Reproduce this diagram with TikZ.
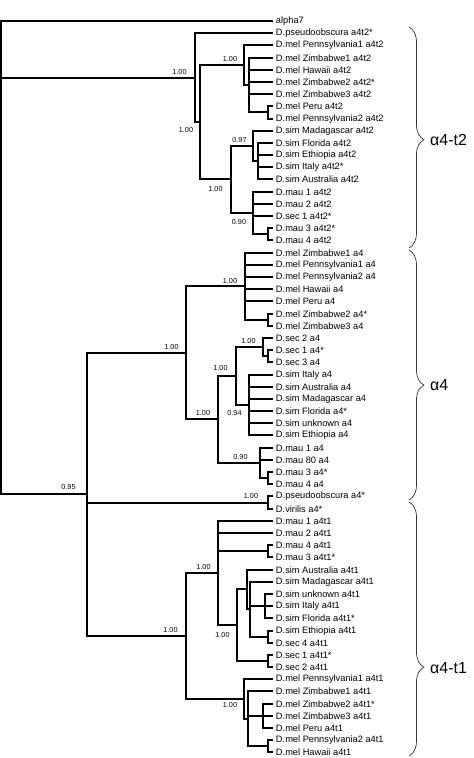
\documentclass[tikz,border=0pt]{standalone}
\usepackage{fontspec}
\setmainfont{Liberation Sans}
\usetikzlibrary{decorations.pathreplacing}
\begin{document}
\begin{tikzpicture}[x=1bp,y=-1bp,
  br/.style={line width=1.8bp},
  leaf/.style={anchor=west, inner xsep=1.5pt, outer xsep=1.5pt, inner ysep=0pt, font=\fontsize{9.3}{10}\selectfont},
  bs/.style={font=\fontsize{7.3}{8}\selectfont, inner sep=0pt},
  grp/.style={anchor=west, font=\fontsize{16}{18}\selectfont, inner sep=0pt},
  brc/.style={decorate, decoration={brace, amplitude=15pt, aspect=#1}, line width=0.7pt, draw=black!80}]
\path[use as bounding box] (0,0) rectangle (474,758);
% leaves
\foreach \i/\t in {0/alpha7, 1/D.pseudoobscura a4t2*, 2/D.mel Pennsylvania1 a4t2, 3/D.mel Zimbabwe1 a4t2,
 4/D.mel Hawaii a4t2, 5/D.mel Zimbabwe2 a4t2*, 6/D.mel Zimbabwe3 a4t2, 7/D.mel Peru a4t2,
 8/D.mel Pennsylvania2 a4t2, 9/D.sim Madagascar a4t2, 10/D.sim Florida a4t2, 11/D.sim Ethiopia a4t2,
 12/D.sim Italy a4t2*, 13/D.sim Australia a4t2, 14/D.mau 1 a4t2, 15/D.mau 2 a4t2, 16/D.sec 1 a4t2*,
 17/D.mau 3 a4t2*, 18/D.mau 4 a4t2, 19/D.mel Zimbabwe1 a4, 20/D.mel Pennsylvania1 a4,
 21/D.mel Pennsylvania2 a4, 22/D.mel Hawaii a4, 23/D.mel Peru a4, 24/D.mel Zimbabwe2 a4*,
 25/D.mel Zimbabwe3 a4, 26/D.sec 2 a4, 27/D.sec 1 a4*, 28/D.sec 3 a4, 29/D.sim Italy a4,
 30/D.sim Australia a4, 31/D.sim Madagascar a4, 32/D.sim Florida a4*, 33/D.sim unknown a4,
 34/D.sim Ethiopia a4, 35/D.mau 1 a4, 36/D.mau 80 a4, 37/D.mau 3 a4*, 38/D.mau 4 a4,
 39/D.pseudoobscura a4*, 40/D.virilis a4*, 41/D.mau 1 a4t1, 42/D.mau 2 a4t1, 43/D.mau 4 a4t1,
 44/D.mau 3 a4t1*, 45/D.sim Australia a4t1, 46/D.sim Madagascar a4t1, 47/D.sim unknown a4t1,
 48/D.sim Italy a4t1, 49/D.sim Florida a4t1*, 50/D.sim Ethiopia a4t1, 51/D.sec 4 a4t1,
 52/D.sec 1 a4t1*, 53/D.sec 2 a4t1, 54/D.mel Pennsylvania1 a4t1, 55/D.mel Zimbabwe1 a4t1,
 56/D.mel Zimbabwe2 a4t1*, 57/D.mel Zimbabwe3 a4t1, 58/D.mel Peru a4t1,
 59/D.mel Pennsylvania2 a4t1, 60/D.mel Hawaii a4t1}
  \node[leaf] (l\i) at (273,{round(21+12.19*\i)}) {\t};
% internal nodes
\coordinate (F)  at (268,112);
\coordinate (E)  at (249,85);
\coordinate (D)  at (244,65);
\coordinate (S2) at (258,161);
\coordinate (L2) at (253,146);
\coordinate (M3) at (268,234);
\coordinate (M2) at (253,213);
\coordinate (C)  at (231,179);
\coordinate (B)  at (200,122);
\coordinate (A)  at (195,78);
\coordinate (MZ) at (268,320);
\coordinate (MA) at (245,286);
\coordinate (SK) at (268,356);
\coordinate (K)  at (263,347);
\coordinate (L)  at (249,405);
\coordinate (J)  at (236,376);
\coordinate (M4) at (268,478);
\coordinate (M)  at (260,463);
\coordinate (I)  at (218,419);
\coordinate (H)  at (186,353);
\coordinate (PV) at (268,503);
\coordinate (MT) at (268,551);
\coordinate (T)  at (265,606);
\coordinate (ES) at (268,637);
\coordinate (X)  at (250,609);
\coordinate (R)  at (247,589);
\coordinate (SS) at (268,661);
\coordinate (Q)  at (237,625);
\coordinate (O)  at (218,573);
\coordinate (Z)  at (263,716);
\coordinate (W)  at (268,746);
\coordinate (Y2) at (248,719);
\coordinate (Y1) at (244,699);
\coordinate (N)  at (186,636);
\coordinate (G)  at (87,494);
\coordinate (root) at (1,258);
% branches
\draw[br] (root) |- (l0.west) (root) |- (A) (root) |- (G);
\draw[br] (A) |- (l1.west) (A) |- (B);
\draw[br] (B) |- (D) (B) |- (C);
\draw[br] (D) |- (l2.west) (D) |- (E);
\draw[br] (E) |- (l3.west) (E) |- (l4.west) (E) |- (l5.west) (E) |- (l6.west) (E) |- (F);
\draw[br] (F) |- (l7.west) (F) |- (l8.west);
\draw[br] (C) |- (L2) (C) |- (M2);
\draw[br] (L2) |- (l9.west) (L2) |- (S2);
\draw[br] (S2) |- (l10.west) (S2) |- (l11.west) (S2) |- (l12.west) (S2) |- (l13.west);
\draw[br] (M2) |- (l14.west) (M2) |- (l15.west) (M2) |- (l16.west) (M2) |- (M3);
\draw[br] (M3) |- (l17.west) (M3) |- (l18.west);
\draw[br] (G) |- (H) (G) |- (PV) (G) |- (N);
\draw[br] (H) |- (MA) (H) |- (I);
\draw[br] (MA) |- (l19.west) (MA) |- (l20.west) (MA) |- (l21.west) (MA) |- (l22.west) (MA) |- (l23.west) (MA) |- (MZ);
\draw[br] (MZ) |- (l24.west) (MZ) |- (l25.west);
\draw[br] (I) |- (J) (I) |- (M);
\draw[br] (J) |- (K) (J) |- (L);
\draw[br] (K) |- (l26.west) (K) |- (SK);
\draw[br] (SK) |- (l27.west) (SK) |- (l28.west);
\draw[br] (L) |- (l29.west) (L) |- (l30.west) (L) |- (l31.west) (L) |- (l32.west) (L) |- (l33.west) (L) |- (l34.west);
\draw[br] (M) |- (l35.west) (M) |- (l36.west) (M) |- (M4);
\draw[br] (M4) |- (l37.west) (M4) |- (l38.west);
\draw[br] (PV) |- (l39.west) (PV) |- (l40.west);
\draw[br] (N) |- (O) (N) |- (Y1);
\draw[br] (O) |- (l41.west) (O) |- (l42.west) (O) |- (MT) (O) |- (Q);
\draw[br] (MT) |- (l43.west) (MT) |- (l44.west);
\draw[br] (Q) |- (R) (Q) |- (SS);
\draw[br] (R) |- (l45.west) (R) |- (X);
\draw[br] (X) |- (l46.west) (X) |- (T) (X) |- (ES);
\draw[br] (T) |- (l47.west) (T) |- (l48.west) (T) |- (l49.west);
\draw[br] (ES) |- (l50.west) (ES) |- (l51.west);
\draw[br] (SS) |- (l52.west) (SS) |- (l53.west);
\draw[br] (Y1) |- (l54.west) (Y1) |- (Y2);
\draw[br] (Y2) |- (l55.west) (Y2) |- (Z) (Y2) |- (W);
\draw[br] (Z) |- (l56.west) (Z) |- (l57.west) (Z) |- (l58.west);
\draw[br] (W) |- (l59.west) (W) |- (l60.west);
% support values
\node[bs] (s1)  at (179.5,72) {1.00};
\node[bs] (s2)  at (230,59) {1.00};
\node[bs] (s3)  at (186,130) {1.00};
\node[bs] (s4)  at (239.5,140) {0.97};
\node[bs] (s5)  at (215.5,189) {1.00};
\node[bs] (s6)  at (239,222) {0.90};
\node[bs] (s7)  at (230,281) {1.00};
\node[bs] (s8)  at (171.5,347) {1.00};
\node[bs] (s9)  at (248.5,341) {1.00};
\node[bs] (s10) at (220.5,368) {1.00};
\node[bs] (s11) at (203,413) {1.00};
\node[bs] (s12) at (234.5,413) {0.94};
\node[bs] (s13) at (240.5,457) {0.90};
\node[bs] (s14) at (251,496) {1.00};
\node[bs] (s15) at (68.5,487) {0.95};
\node[bs] (s16) at (203.5,567) {1.00};
\node[bs] (s17) at (222.5,635) {1.00};
\node[bs] (s18) at (170.5,630) {1.00};
\node[bs] (s19) at (230,705) {1.00};
% group braces
\coordinate (b1a) at (409,27);  \coordinate (b1b) at (409,248);
\coordinate (b2a) at (409,250); \coordinate (b2b) at (409,500);
\coordinate (b3a) at (409,502); \coordinate (b3b) at (409,756);
\draw[brc=0.51] (b1a) -- (b1b);
\draw[brc=0.54] (b2a) -- (b2b);
\draw[brc=0.65] (b3a) -- (b3b);
\node[grp] (g1) at (430,140) {α4-t2};
\node[grp] (g2) at (430,385) {α4};
\node[grp] (g3) at (430,668) {α4-t1};
\end{tikzpicture}
\end{document}
